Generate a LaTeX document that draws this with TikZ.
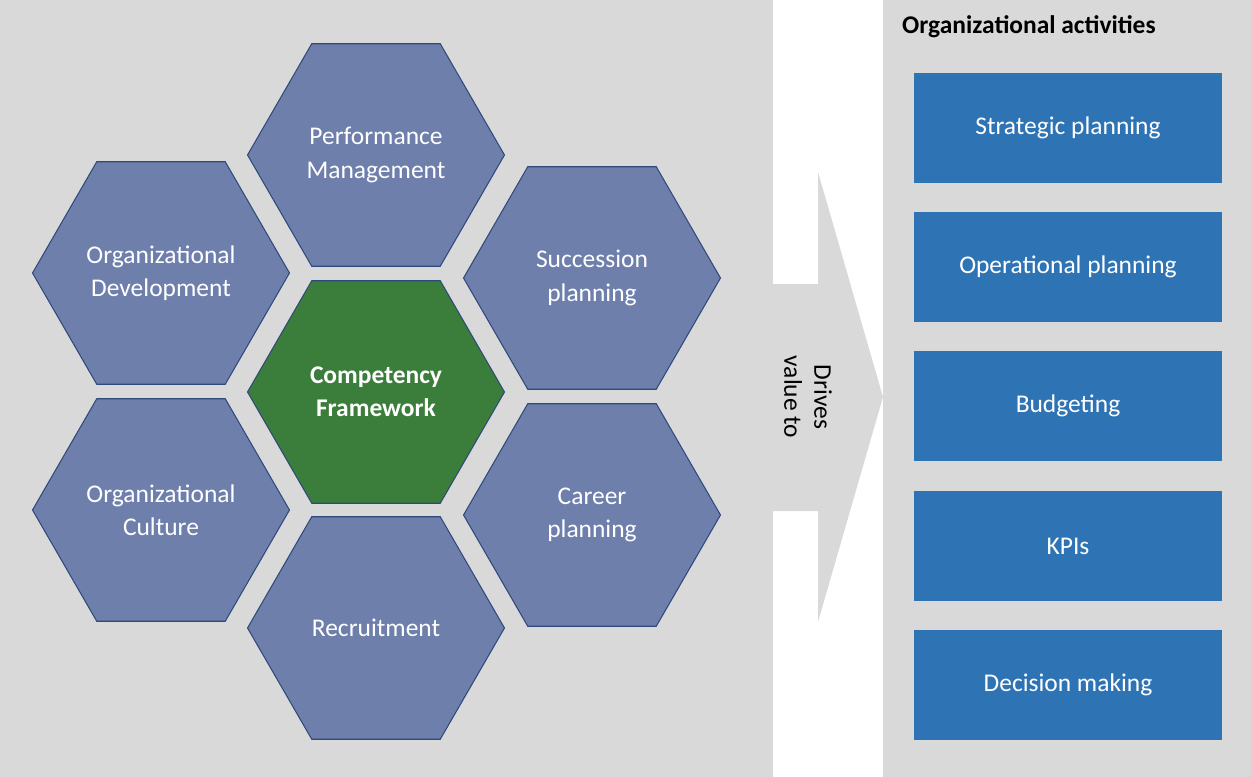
\documentclass[tikz,border=0pt]{standalone}
\usepackage{fontspec}
\setmainfont{Carlito}
\usetikzlibrary{shapes.geometric}
\definecolor{panelgray}{HTML}{D9D9D9}
\definecolor{hexblue}{HTML}{6E7FAC}
\definecolor{hexedge}{HTML}{2F4A7A}
\definecolor{hexgreen}{HTML}{3B7D3A}
\definecolor{boxblue}{HTML}{2E74B5}
\begin{document}
\begin{tikzpicture}[x=0.02cm,y=-0.02cm,
    hexnode/.style={regular polygon,regular polygon sides=6,inner sep=0pt,
        minimum size=5.14cm,fill=hexblue,draw=hexedge,line width=0.6pt,
        text=white,align=center,font=\fontsize{14.5}{19}\selectfont},
    corenode/.style={hexnode,fill=hexgreen,font=\fontsize{14.5}{19}\selectfont\bfseries},
    actbox/.style={rectangle,fill=boxblue,text=white,minimum width=6.16cm,
        minimum height=2.2cm,font=\fontsize{14.5}{19}\selectfont}
    ]
    \useasboundingbox (0,0) rectangle (1251,777);
    % panels and arrow
    \fill[panelgray] (0,0) rectangle (773,777);
    \fill[panelgray] (883,0) rectangle (1251,777);
    \fill[panelgray] (773,284) -- (818,284) -- (818,172) -- (883,397)
        -- (818,622) -- (818,511) -- (773,511) -- cycle;
    \node[rotate=-90,align=center,font=\fontsize{14.5}{17}\selectfont] (drives) at (808,397) {Drives\\value to};
    % hexagons
    \node[corenode] (core) at (376,392) {Competency\\Framework};
    \node[hexnode] (perf) at (376,155) {Performance\\Management};
    \node[hexnode] (recr) at (376,628) {Recruitment};
    \node[hexnode] (orgdev) at (161,273) {Organizational\\Development};
    \node[hexnode] (orgcul) at (161,510) {Organizational\\Culture};
    \node[hexnode] (succ) at (592,278) {Succession\\planning};
    \node[hexnode] (career) at (592,515) {Career\\planning};
    % activities
    \node[anchor=west,font=\fontsize{14.5}{19}\selectfont\bfseries] (title) at (896,27) {Organizational activities};
    \node[actbox] (strat) at (1068,128) {Strategic planning};
    \node[actbox] (oper) at (1068,267) {Operational planning};
    \node[actbox] (budget) at (1068,406) {Budgeting};
    \node[actbox] (kpi) at (1068,546) {KPIs};
    \node[actbox] (decide) at (1068,685) {Decision making};
\end{tikzpicture}
\end{document}
